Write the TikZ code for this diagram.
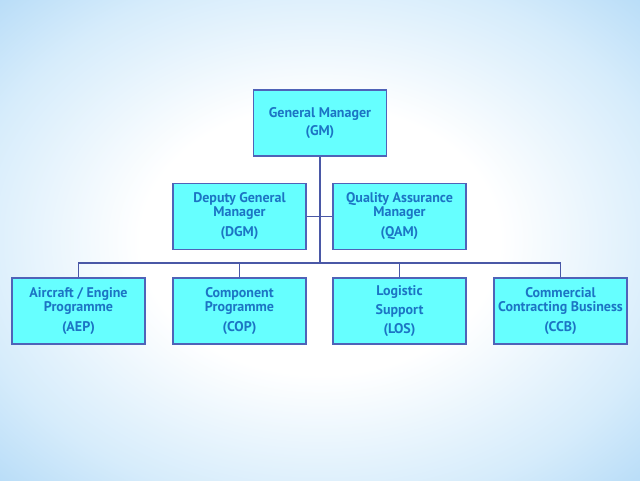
\documentclass[tikz,border=0pt]{standalone}
\usepackage{fontspec}
\setmainfont{PT Sans}
\usepackage{xcolor}
\definecolor{boxcyan}{HTML}{66FFFF}
\definecolor{boxedge}{HTML}{4F63B8}
\definecolor{orgtext}{HTML}{1C74C4}
\definecolor{orgline}{HTML}{4A58A6}
\definecolor{skymid}{HTML}{D6ECFB}
\definecolor{skyedge}{HTML}{A0D0F5}
\definecolor{skycorner}{HTML}{86C2EE}
\pgfdeclareradialshading{skyglow}{\pgfpoint{0bp}{0bp}}{color(0bp)=(white); color(14bp)=(white); color(28bp)=(skymid); color(42bp)=(skyedge); color(72bp)=(skycorner)}

\begin{document}
\begin{tikzpicture}[x=1pt,y=-1pt,
  orgbox/.style={draw=boxedge, line width=1.3pt, fill=boxcyan, minimum width=133pt,
    minimum height=66pt, inner sep=0pt, align=center, text=orgtext,
    font=\fontsize{14}{14}\selectfont\bfseries},
  orglink/.style={draw=orgline, line width=1.4pt}]
  \shade[shading=skyglow] (0,0) rectangle (640,480);
  \useasboundingbox (0,0) rectangle (640,480);

  \node[orgbox] (gm) at (320,123) {General Manager\\[4pt](GM)};

  \node[orgbox] (dgm) at (239.5,216.5) {Deputy General\\Manager\\[6pt](DGM)};
  \node[orgbox] (qam) at (399.5,216.5) {Quality Assurance\\Manager\\[6pt](QAM)};

  \node[orgbox] (aep) at (78.5,311) {Aircraft / Engine\\Programme\\[6pt](AEP)};
  \node[orgbox] (cop) at (239.5,311) {Component\\Programme\\[6pt](COP)};
  \node[orgbox] (los) at (399.5,311) {Logistic\\[5pt]Support\\[5pt](LOS)};
  \node[orgbox] (ccb) at (560.5,311) {Commercial\\Contracting Business\\[6pt](CCB)};

  \coordinate (bus) at (320,263);
  \draw[orglink] (gm.south) -- (bus);
  \draw[orglink] (dgm.east) -- (qam.west);
  \draw[orglink] (aep.north) |- (bus) -| (ccb.north);
  \draw[orglink] (cop.north) |- (bus);
  \draw[orglink] (los.north) |- (bus);
\end{tikzpicture}
\end{document}
